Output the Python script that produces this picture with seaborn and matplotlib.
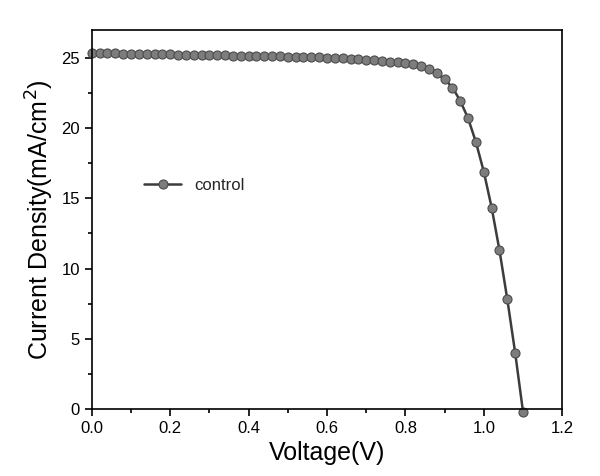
import matplotlib
matplotlib.use("Agg")
import matplotlib.pyplot as plt
import seaborn as sns
from matplotlib.ticker import MultipleLocator

sns.set_style("ticks")
plt.rcParams["font.family"] = ["Liberation Sans", "DejaVu Sans"]

voltage = [round(0.02 * i, 2) for i in range(56)]
current = [25.35, 25.34, 25.33, 25.33, 25.32, 25.31, 25.30, 25.29, 25.28, 25.27,
           25.26, 25.25, 25.24, 25.23, 25.22, 25.21, 25.20, 25.19, 25.18, 25.17,
           25.16, 25.15, 25.14, 25.13, 25.12, 25.11, 25.10, 25.08, 25.06, 25.04,
           25.02, 25.00, 24.98, 24.95, 24.92, 24.88, 24.84, 24.80, 24.75, 24.70,
           24.65, 24.60, 24.45, 24.25, 23.90, 23.50, 22.90, 21.95, 20.70, 19.00,
           16.90, 14.35, 11.30, 7.80, 4.00, -0.20]

fig = plt.figure(figsize=(6, 4.76), dpi=100)
ax = fig.add_axes([0.153, 0.141, 0.784, 0.796])
sns.lineplot(x=voltage, y=current, ax=ax, color="#3c3c3c", linewidth=1.8,
             marker="o", markersize=6.5, markerfacecolor="#7d7d7d",
             markeredgecolor="#4a4a4a", markeredgewidth=0.8, label="control",
             clip_on=False)

ax.set_xlim(0, 1.2)
ax.set_ylim(0, 27)
ax.xaxis.set_major_locator(MultipleLocator(0.2))
ax.xaxis.set_minor_locator(MultipleLocator(0.1))
ax.yaxis.set_major_locator(MultipleLocator(5))
ax.yaxis.set_minor_locator(MultipleLocator(2.5))
ax.tick_params(which="both", direction="out", labelsize=12, width=1.2,
               color="black", labelcolor="black")
ax.tick_params(which="major", length=5)
ax.tick_params(which="minor", length=3)
for s in ax.spines.values():
    s.set_linewidth(1.2)
    s.set_color("black")
    s.set_visible(True)
ax.set_xlabel("Voltage(V)", fontsize=18, color="black")
ax.set_ylabel("Current Density(mA/cm$^2$)", fontsize=18, color="black")
ax.legend(loc="center left", bbox_to_anchor=(0.08, 0.59), frameon=False,
          fontsize=12, handlelength=2.2)

fig.savefig("out.png", dpi=100)
